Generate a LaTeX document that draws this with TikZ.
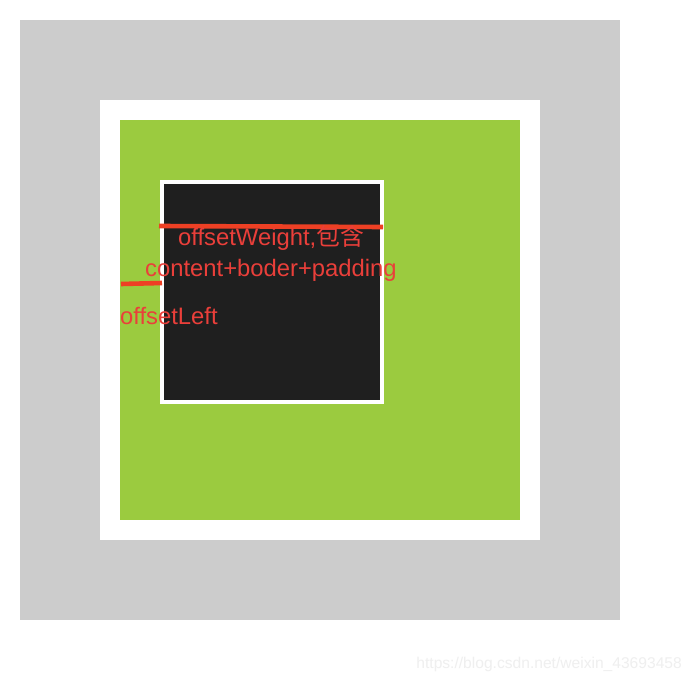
\documentclass[tikz,border=0pt]{standalone}
\usepackage{fontspec}
\setmainfont{Liberation Sans}
\newfontfamily\cjk{Noto Sans CJK SC}
\definecolor{bggray}{HTML}{CCCCCC}
\definecolor{leaf}{HTML}{9BCB3F}
\definecolor{darkbox}{HTML}{1F1F1F}
\definecolor{redline}{HTML}{EE4024}
\definecolor{redtext}{HTML}{EA3F3A}
\definecolor{mark}{HTML}{EFEFEF}
\tikzset{
  lbl/.style={text=redtext, font=\fontsize{23.8}{26}\selectfont, inner sep=0pt, anchor=base west},
  redbar/.style={draw=redline, line width=4.6pt}
}
\begin{document}
\begin{tikzpicture}[x=1pt,y=-1pt]
\useasboundingbox (0,0) rectangle (692,684);
\fill[white] (0,0) rectangle (692,684);
\fill[bggray] (20,20) rectangle (620,620);
\fill[white] (100,100) rectangle (540,540);
\fill[leaf] (120,120) rectangle (520,520);
\fill[white] (160,180) rectangle (384,404);
\fill[darkbox] (164,184) rectangle (380,400);
\draw[redbar] (159,226) -- (383,227);
\draw[redbar] (121,284) -- (162,283);
\node[lbl] (ow) at (178,246) {offsetWeight,{\cjk 包含}};
\node[lbl] (cbp) at (145,276) {content+boder+padding};
\node[lbl] (ol) at (120,324) {offsetLeft};
\node[text=mark, font=\fontsize{15.6}{17}\selectfont, inner sep=0pt, anchor=base east] (wm) at (682,668) {https://blog.csdn.net/weixin\_43693458};
\end{tikzpicture}
\end{document}
